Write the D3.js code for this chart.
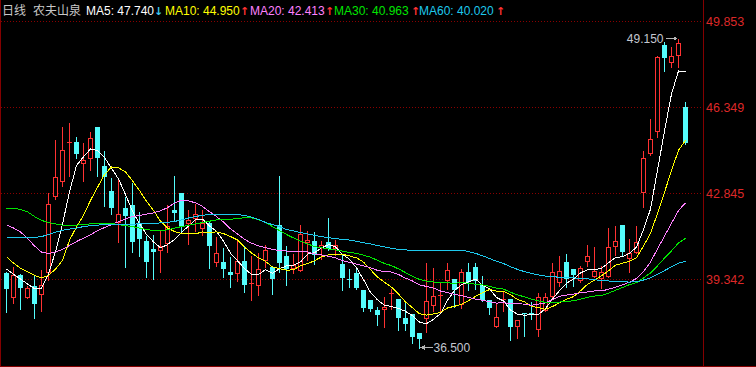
<!DOCTYPE html>
<html><head><meta charset="utf-8">
<script src="https://cdn.jsdelivr.net/npm/d3@7"></script>
<style>html,body{margin:0;padding:0;background:#000;overflow:hidden}</style>
</head><body><svg id="c" width="756" height="367"></svg>
<script>
// ---------- data ----------
const opens=[39.59,38.55,39.49,38.55,39.06,38.70,39.57,42.70,43.31,44.90,
44.92,44.04,44.22,45.53,43.95,42.93,41.64,42.24,42.36,41.63,
40.89,40.55,40.50,40.76,42.16,42.84,41.57,41.79,41.37,41.64,
39.98,40.02,39.63,39.53,40.09,39.15,39.07,40.08,39.84,41.55,
40.28,39.76,39.67,40.80,40.89,40.62,40.84,40.58,39.95,39.34,
39.59,38.89,38.49,38.08,38.06,38.75,38.53,37.76,37.90,37.15,
37.70,38.25,38.68,39.26,39.34,38.28,39.63,39.83,39.10,38.49,
37.40,38.52,38.53,37.40,37.97,37.96,37.26,38.04,38.62,39.18,
40.02,39.75,39.26,40.05,39.44,39.34,39.44,40.63,41.55,40.17,
40.41,42.87,44.43,45.33,48.89,48.16,48.45,46.36];
const highs=[39.63,39.83,39.55,39.07,39.51,39.70,42.84,45.01,45.53,45.70,
45.12,44.88,45.32,45.54,44.56,43.45,43.47,42.70,43.26,42.09,
41.10,41.14,41.32,42.36,43.54,42.84,42.16,42.40,42.16,41.67,
41.04,40.59,40.23,40.90,40.70,40.28,40.39,40.73,39.87,43.54,
40.68,40.38,41.55,41.32,41.27,40.89,41.82,40.93,40.32,39.75,
39.82,38.89,38.49,38.19,38.60,38.92,38.53,38.42,37.90,37.15,
39.98,39.80,39.16,40.01,39.34,39.77,39.98,39.98,39.46,38.49,
38.35,38.82,38.53,37.66,37.97,38.40,38.76,38.76,39.98,40.28,
40.35,39.75,39.87,40.73,40.65,39.88,41.42,41.49,41.55,40.96,
41.50,44.56,45.87,48.44,49.02,48.79,49.15,46.55];
const lows=[37.97,38.33,38.08,38.54,37.70,37.98,39.26,42.56,43.09,43.51,
44.22,43.29,43.76,43.51,42.28,41.96,40.82,39.80,40.39,40.23,
39.39,39.30,39.60,40.39,41.66,41.23,40.73,41.24,41.10,39.77,
39.84,39.39,38.96,39.21,38.76,38.46,38.65,39.78,38.70,39.57,
39.06,39.53,39.61,40.08,39.90,40.12,40.50,40.30,38.86,38.99,
38.91,37.98,37.98,37.44,37.36,38.08,37.23,37.23,36.69,36.50,
37.13,38.01,37.95,38.89,38.16,38.12,38.86,38.89,38.40,37.87,
37.34,38.01,36.81,36.88,36.99,37.67,36.96,38.00,38.49,39.02,
38.97,39.00,39.18,39.83,39.38,38.95,39.38,40.27,40.25,39.57,
40.36,42.25,44.36,45.08,47.77,47.94,47.94,44.81];
const closes=[38.95,39.49,38.99,38.97,38.33,39.08,42.39,43.50,44.59,44.92,
44.45,44.18,45.08,44.29,43.50,42.25,41.98,41.92,40.86,40.99,
40.05,40.46,40.70,41.52,42.05,41.48,41.75,41.98,41.64,40.68,
40.39,39.76,39.51,40.08,39.11,39.17,39.74,40.53,39.35,40.01,
39.75,39.91,41.18,40.92,40.32,40.72,40.58,40.72,39.39,39.32,
38.99,38.17,38.11,37.87,38.20,38.76,37.76,37.52,36.99,36.88,
38.45,38.64,38.70,39.70,38.88,39.61,39.23,39.26,38.49,38.17,
37.78,38.54,37.40,37.66,37.95,37.87,38.60,38.60,39.61,39.67,
39.34,39.51,39.81,40.28,39.68,39.61,40.63,40.89,40.43,40.39,
40.84,44.26,45.04,48.38,48.34,48.42,48.95,44.88];

// moving-average values before enough in-view history exists
const ma5Prior=[39.75,39.53,39.34,39.14];
const ma10Prior=[40.25,39.99,39.78,39.64,39.49,39.39,39.48,39.75,40.10];
const ma20Prior=[41.55,41.42,41.26,41.00,40.69,40.44,40.38,40.44,40.55,40.71,40.87,41.01,41.14,41.32,41.44,41.56,41.68,41.79,41.89];
const ma30Prior=[42.23,42.22,42.18,42.08,41.89,41.73,41.65,41.59,41.54,41.54,41.54,41.56,41.59,41.60,41.61,41.61,41.56,41.52,41.48,41.42,41.36,41.32,41.31,41.35,41.42,41.48,41.53,41.59,41.64];
const ma60Prior=[41.04,41.04,41.04,41.04,41.04,41.07,41.16,41.25,41.33,41.38,
41.42,41.48,41.52,41.54,41.56,41.57,41.57,41.58,41.58,41.59,
41.59,41.61,41.63,41.65,41.69,41.75,41.83,41.89,41.94,41.97,
41.98,41.98,41.98,41.97,41.93,41.87,41.77,41.65,41.56,41.48,
41.36,41.30,41.24,41.18,41.12,41.07,41.03,40.99,40.96,40.93,
40.88,40.82,40.77,40.71,40.65,40.59,40.55,40.53,40.50];

const maPeriods=[5,10,20,30,60];
const maLabels=["MA5: 47.740","MA10: 44.950","MA20: 42.413","MA30: 40.963","MA60: 40.020"];
const maArrows=["↓","↑","↑","↑","↑"];
const titleTexts=["日线","农夫山泉"];
const yTicks=[49.853,46.349,42.845,39.342];

// ---------- styles ----------
const RED="#ff3232", CYAN="#54fcfc", BORDER="#840000", GRID="#8a0000";
const maColors=["#ffffff","#ffff00","#ff80ff","#00e600","#1ec8ec"];
const priors=[ma5Prior,ma10Prior,ma20Prior,ma30Prior,ma60Prior];

const W=756,H=367, PR=703;
const svg=d3.select('#c').attr('shape-rendering','crispEdges');
svg.append('rect').attr('width',W).attr('height',H).attr('fill','#000');

const n=closes.length;
const x=d3.scaleLinear().domain([0,n-1]).range([6.5,6.5+7*(n-1)]);
const y=d3.scaleLinear().domain([39.342,49.853]).range([279,21.3]);
const py=v=>Math.floor(y(v))+0.5;

// grid
svg.append('g').selectAll('line').data(yTicks).join('line')
  .attr('x1',1).attr('x2',PR).attr('y1',d=>py(d)).attr('y2',d=>py(d))
  .attr('stroke',GRID).attr('stroke-dasharray','1,2');

// borders
svg.append('line').attr('x1',0.5).attr('x2',0.5).attr('y1',0).attr('y2',366).attr('stroke',BORDER);
svg.append('line').attr('x1',PR+0.5).attr('x2',PR+0.5).attr('y1',0).attr('y2',366).attr('stroke',BORDER);
svg.append('line').attr('x1',0).attr('x2',W).attr('y1',366.5).attr('y2',366.5).attr('stroke',BORDER);

// right axis labels
const ax=svg.append('g').attr('transform',`translate(${PR},0)`)
  .call(d3.axisRight(y).tickValues(yTicks).tickFormat(d3.format('.3f')).tickSize(0).tickPadding(3));
ax.select('.domain').remove();
ax.selectAll('text').attr('fill','#dc2828').attr('font-family','Liberation Sans, Arial, sans-serif')
  .attr('font-size',12.5).attr('dy','0.36em').attr('shape-rendering',null);

// candles
const idx=d3.range(n);
const isUp=i=>closes[i]>=opens[i];
const cg=svg.append('g');
idx.forEach(i=>{
  const cx=x(i), yo=y(opens[i]), yc=y(closes[i]), yh=y(highs[i]), yl=y(lows[i]);
  const top=Math.round(Math.min(yo,yc)), bot=Math.round(Math.max(yo,yc));
  const col=isUp(i)?RED:CYAN;
  if(bot-top<2){
    cg.append('line').attr('x1',cx).attr('x2',cx).attr('y1',yh).attr('y2',yl).attr('stroke',col);
    cg.append('line').attr('x1',cx-2.5).attr('x2',cx+2.5).attr('y1',top+0.5).attr('y2',top+0.5).attr('stroke',col);
  } else if(isUp(i)){
    cg.append('line').attr('x1',cx).attr('x2',cx).attr('y1',yh).attr('y2',top).attr('stroke',col);
    cg.append('line').attr('x1',cx).attr('x2',cx).attr('y1',bot).attr('y2',yl).attr('stroke',col);
    cg.append('rect').attr('x',cx-2).attr('width',4).attr('y',top+0.5).attr('height',bot-top-1)
      .attr('fill','#000').attr('stroke',col);
  } else {
    cg.append('line').attr('x1',cx).attr('x2',cx).attr('y1',yh).attr('y2',yl).attr('stroke',col);
    cg.append('rect').attr('x',cx-2.5).attr('width',5).attr('y',top).attr('height',bot-top).attr('fill',col);
  }
});

// moving averages
function movingAvg(p,prior){
  return idx.map(i=> i<p-1 ? prior[i] : d3.mean(closes.slice(i-p+1,i+1)));
}
const lineGen=d3.line().x((d,i)=>x(i)).y(d=>y(d));
maPeriods.forEach((p,k)=>{
  svg.append('path').datum(movingAvg(p,priors[k])).attr('d',lineGen)
    .attr('fill','none').attr('stroke',maColors[k]).attr('stroke-width',1);
});

// header
const FONT='Liberation Sans, Arial, sans-serif';
const CJK='"Noto Sans CJK SC", sans-serif';
const hdr=svg.append('g').attr('shape-rendering',null);
hdr.append('text').attr('x',2).attr('y',15).attr('fill','#c8c8c8').attr('font-family',CJK).attr('font-size',12).text(titleTexts[0]);
hdr.append('text').attr('x',33).attr('y',15).attr('fill','#c8c8c8').attr('font-family',CJK).attr('font-size',12).text(titleTexts[1]);
const labX=[86,165,250,334,419], arrX=[154,240,325,411,496];
maLabels.forEach((t,k)=>{
  hdr.append('text').attr('x',labX[k]).attr('y',15).attr('fill',maColors[k]).attr('font-family',FONT).attr('font-size',12).text(t);
  hdr.append('text').attr('x',arrX[k]).attr('y',15).attr('fill',maArrows[k]==="↓"?"#3cc8f0":RED)
    .attr('font-family','DejaVu Sans, sans-serif').attr('font-weight','bold').attr('font-size',11).text(maArrows[k]);
});

// max / min annotations
const iMax=d3.maxIndex(highs), iMin=d3.minIndex(lows);
const fmt=d3.format('.3f');
const ann=svg.append('g').attr('shape-rendering',null);
const yMax=Math.floor(y(highs[iMax]))+0.5;
ann.append('line').attr('x1',x(iMax)-13).attr('x2',x(iMax)-2).attr('y1',yMax).attr('y2',yMax).attr('stroke','#b4b4b4').attr('shape-rendering','crispEdges');
ann.append('path').attr('d',`M${x(iMax)-1},${yMax} l-4,-2.5 l0,5 z`).attr('fill','#b4b4b4');
ann.append('text').attr('x',x(iMax)-15).attr('y',yMax+4.5).attr('text-anchor','end').attr('fill','#c4c8d0')
  .attr('font-family',FONT).attr('font-size',12).text(fmt(highs[iMax]));
const yMin=Math.floor(y(lows[iMin]))-0.5;
ann.append('line').attr('x1',x(iMin)+2).attr('x2',x(iMin)+13).attr('y1',yMin).attr('y2',yMin).attr('stroke','#b4b4b4').attr('shape-rendering','crispEdges');
ann.append('path').attr('d',`M${x(iMin)+1},${yMin} l4,-2.5 l0,5 z`).attr('fill','#b4b4b4');
ann.append('text').attr('x',x(iMin)+14).attr('y',yMin+4.5).attr('fill','#c4c8d0')
  .attr('font-family',FONT).attr('font-size',12).text(fmt(lows[iMin]));
</script></body></html>
